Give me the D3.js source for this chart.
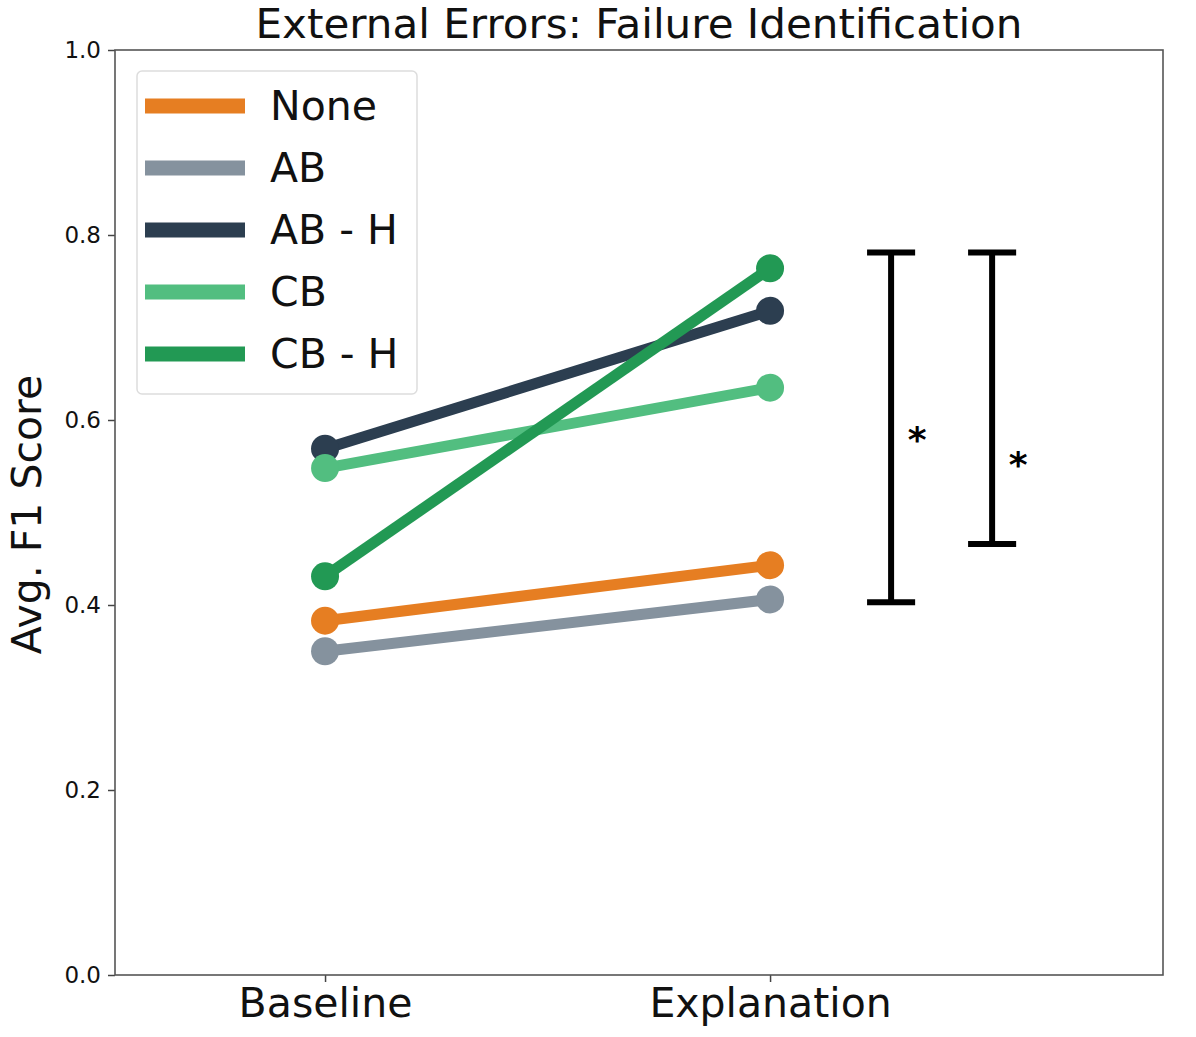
<!DOCTYPE html>
<html>
<head>
<meta charset="utf-8">
<script src="https://cdn.jsdelivr.net/npm/d3@7"></script>
<style>
  body { margin: 0; background: #fff; }
  text { font-family: "DejaVu Sans", sans-serif; }
</style>
</head>
<body>
<div id="chart"></div>
<script>
// data
let conditions = ["Baseline", "Explanation"];
let seriesNames = ["None", "AB", "AB - H", "CB", "CB - H"];
let seriesColors = ["#e67e22", "#85929e", "#2c3e50", "#52be80", "#229954"];
let noneValues = [0.383, 0.443];
let abValues = [0.350, 0.406];
let abhValues = [0.569, 0.718];
let cbValues = [0.548, 0.635];
let cbhValues = [0.431, 0.764];
let yTicks = [0.0, 0.2, 0.4, 0.6, 0.8, 1.0];

// significance brackets
let sigX = [1.272, 1.499];
let sigLow = [0.403, 0.466];
let sigHigh = [0.781, 0.781];
let sigStarY = [0.586, 0.559];
let sigLabel = ["*", "*"];

function main(){
    let allValues = [noneValues, abValues, abhValues, cbValues, cbhValues];

    let svg = d3.select("#chart").append("svg")
        .attr("width", 1196)
        .attr("height", 1037);

    let left = 115, right = 1163, top = 50, bottom = 975;

    let xScale = d3.scaleLinear().domain([-0.472, 1.883]).range([left, right]);
    let yScale = d3.scaleLinear().domain([0, 1]).range([bottom, top]);

    // title
    svg.append("text")
        .attr("x", (left + right) / 2)
        .attr("y", 38)
        .attr("text-anchor", "middle")
        .attr("font-size", 40)
        .attr("textLength", 767)
        .attr("lengthAdjust", "spacingAndGlyphs")
        .attr("fill", "#111")
        .text("External Errors: Failure Identification");

    // y axis
    let yAxis = svg.append("g")
        .attr("transform", "translate(" + left + ",0)")
        .call(d3.axisLeft(yScale).tickValues(yTicks).tickFormat(d3.format(".1f")).tickSize(7).tickPadding(7));
    yAxis.select(".domain").remove();
    yAxis.selectAll("line").attr("stroke", "#444").attr("stroke-width", 1.5);
    yAxis.selectAll("text").attr("font-size", 23).attr("fill", "#111")
        .attr("font-family", "DejaVu Sans, sans-serif");

    // x axis
    let xAxis = svg.append("g")
        .attr("transform", "translate(0," + bottom + ")")
        .call(d3.axisBottom(xScale).tickValues([0, 1]).tickFormat(function(d){ return conditions[d]; }).tickSize(7).tickPadding(6));
    xAxis.select(".domain").remove();
    xAxis.selectAll("line").attr("stroke", "#444").attr("stroke-width", 1.5);
    xAxis.selectAll("text").attr("font-size", 41).attr("fill", "#111")
        .attr("font-family", "DejaVu Sans, sans-serif");

    // frame
    svg.append("rect")
        .attr("x", left).attr("y", top)
        .attr("width", right - left).attr("height", bottom - top)
        .attr("fill", "none")
        .attr("stroke", "#555")
        .attr("stroke-width", 1.6);

    // y label
    svg.append("text")
        .attr("transform", "translate(41," + ((top + bottom) / 2 + 2) + ") rotate(-90)")
        .attr("text-anchor", "middle")
        .attr("font-size", 41)
        .attr("fill", "#111")
        .text("Avg. F1 Score");

    // lines and markers
    let line = d3.line()
        .x(function(d, i){ return xScale(i); })
        .y(function(d){ return yScale(d); });

    allValues.forEach(function(vals, k){
        let g = svg.append("g");
        g.append("path")
            .attr("d", line(vals))
            .attr("fill", "none")
            .attr("stroke", seriesColors[k])
            .attr("stroke-width", 11);
        g.selectAll("circle")
            .data(vals)
            .enter()
            .append("circle")
            .attr("cx", function(d, i){ return xScale(i); })
            .attr("cy", function(d){ return yScale(d); })
            .attr("r", 14)
            .attr("fill", seriesColors[k]);
    });

    // significance brackets
    let capHalf = 0.054;
    sigX.forEach(function(x, i){
        let g = svg.append("g").attr("stroke", "#000").attr("stroke-width", 6);
        g.append("line")
            .attr("x1", xScale(x)).attr("x2", xScale(x))
            .attr("y1", yScale(sigHigh[i])).attr("y2", yScale(sigLow[i]));
        [sigHigh[i], sigLow[i]].forEach(function(v){
            g.append("line")
                .attr("x1", xScale(x - capHalf)).attr("x2", xScale(x + capHalf))
                .attr("y1", yScale(v)).attr("y2", yScale(v));
        });
        svg.append("text")
            .attr("x", xScale(x) + 26)
            .attr("y", yScale(sigStarY[i]) + 19)
            .attr("text-anchor", "middle")
            .attr("font-size", 36)
            .attr("font-weight", "bold")
            .attr("fill", "#000")
            .text(sigLabel[i]);
    });

    // legend
    let legend = svg.append("g");
    legend.append("rect")
        .attr("x", 137).attr("y", 71)
        .attr("width", 280).attr("height", 323)
        .attr("rx", 5)
        .attr("fill", "#fff")
        .attr("fill-opacity", 0.85)
        .attr("stroke", "#ddd")
        .attr("stroke-width", 1.5);
    seriesNames.forEach(function(name, i){
        let cy = 106 + i * 62;
        legend.append("line")
            .attr("x1", 145).attr("x2", 245)
            .attr("y1", cy).attr("y2", cy)
            .attr("stroke", seriesColors[i])
            .attr("stroke-width", 15);
        legend.append("text")
            .attr("x", 270)
            .attr("y", cy + 14)
            .attr("font-size", 41)
            .attr("fill", "#111")
            .text(name);
    });
}

main();
</script>
</body>
</html>
